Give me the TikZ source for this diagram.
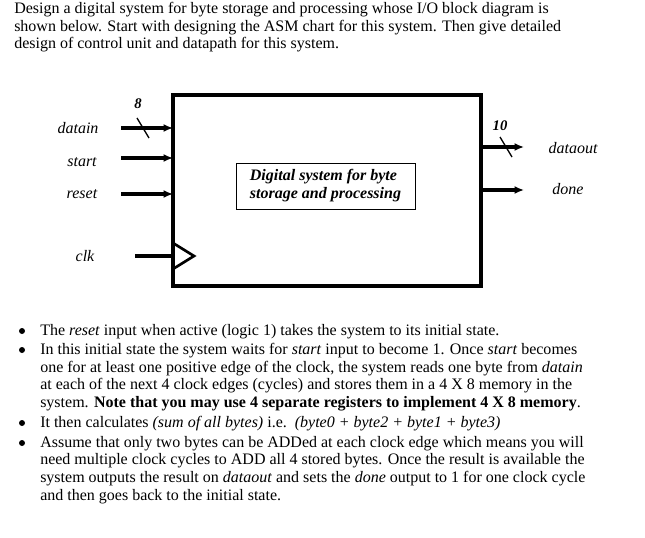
\documentclass[tikz,border=0pt]{standalone}
\usepackage{fontspec}
\setmainfont{Liberation Serif}
\usetikzlibrary{arrows.meta}
\begin{document}
\begin{tikzpicture}[x=0.75pt,y=-0.75pt,
  wire/.style={line width=2.4pt,-{Latex[length=7pt,width=6pt]}},
  thk/.style={line width=2.4pt},
  lbl/.style={font=\itshape\fontsize{12}{14}\selectfont},
  para/.style={anchor=north west,inner sep=0pt,align=left,font=\fontsize{12}{13.2}\selectfont},
  blt/.style={fill=black,circle,inner sep=0pt,minimum size=4.5pt}]
\useasboundingbox (0,0) rectangle (645,538);
\node[para] (intro) at (14,2) {Design a digital system for byte storage and processing whose I/O block diagram is\\shown below. Start with designing the ASM chart for this system. Then give detailed\\design of control unit and datapath for this system.};
% block
\draw[thk] (173,95) rectangle (481,286);
\node[draw,line width=0.5pt,minimum width=179*0.75pt,minimum height=46*0.75pt,align=left,inner sep=2pt,
  font=\bfseries\itshape\fontsize{12}{13.5}\selectfont] (core) at (325.5,186) {Digital system for byte\\storage and processing};
% inputs
\coordinate (dinA) at (121,128); \coordinate (dinB) at (173,128);
\coordinate (stA) at (121,158); \coordinate (stB) at (173,158);
\coordinate (rsA) at (121,194); \coordinate (rsB) at (173,194);
\coordinate (ckA) at (135,256); \coordinate (ckB) at (173,256);
\draw[wire] (dinA) -- (dinB);
\draw[wire] (stA) -- (stB);
\draw[wire] (rsA) -- (rsB);
\draw[thk] (ckA) -- (ckB);
\draw[line width=2pt] (173,243) -- (194,256) -- (173,269);
\draw[line width=1pt] (137,118) -- (149,138);
\node[font=\bfseries\itshape\fontsize{11}{13}\selectfont] (w8) at (138,104) {8};
\node[lbl] (l1) at (78,128) {datain};
\node[lbl] (l2) at (82,162) {start};
\node[lbl] (l3) at (82,194) {reset};
\node[lbl] (l4) at (85,256) {clk};
% outputs
\coordinate (doA) at (481,147); \coordinate (doB) at (524,147);
\coordinate (dnA) at (481,190); \coordinate (dnB) at (524,190);
\draw[wire] (doA) -- (doB);
\draw[wire] (dnA) -- (dnB);
\draw[line width=1pt] (500,137) -- (512,157);
\node[font=\bfseries\itshape\fontsize{11}{13}\selectfont] (w10) at (500,126) {10};
\node[lbl] (l5) at (573,148) {dataout};
\node[lbl] (l6) at (568,189) {done};
% bullets
\node[blt] (b1) at (22,331) {};
\node[blt] (b2) at (22,350) {};
\node[blt] (b3) at (22,423) {};
\node[blt] (b4) at (22,443) {};
\node[para] (t1) at (40,324) {The \textit{reset} input when active (logic 1) takes the system to its initial state.};
\node[para] (t2) at (40,343) {In this initial state the system waits for \textit{start} input to become 1. Once \textit{start} becomes\\one for at least one positive edge of the clock, the system reads one byte from \textit{datain}\\at each of the next 4 clock edges (cycles) and stores them in a 4 X 8 memory in the\\system. \textbf{Note that you may use 4 separate registers to implement 4 X 8 memory}.};
\node[para] (t3) at (40,416) {It then calculates \textit{(sum of all bytes)} i.e.\ \ \textit{(byte0 + byte2 + byte1 + byte3)}};
\node[para] (t4) at (40,436) {Assume that only two bytes can be ADDed at each clock edge which means you will\\need multiple clock cycles to ADD all 4 stored bytes. Once the result is available the\\system outputs the result on \textit{dataout} and sets the \textit{done} output to 1 for one clock cycle\\and then goes back to the initial state.};
\end{tikzpicture}
\end{document}
